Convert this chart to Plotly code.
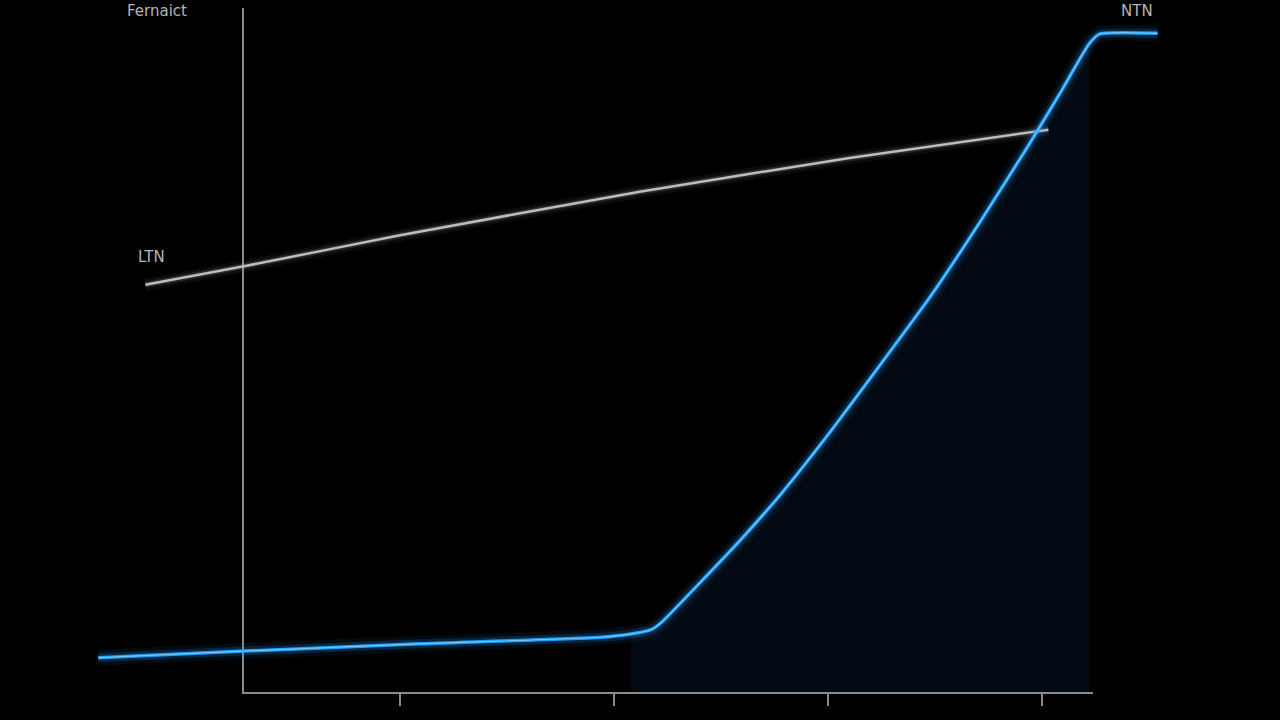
import plotly.graph_objects as go

# blue forecast curve (flat, then steep rise, then plateau)
blue_x = [-0.41, 0.27, 1.09, 1.94, 2.08, 2.17, 2.22, 2.40, 2.59, 2.78, 3.01, 3.24, 3.48, 3.71, 3.94, 4.08, 4.22, 4.27, 4.54]
blue_y = [5.2, 6.2, 7.3, 8.3, 8.8, 9.4, 10.5, 16.5, 23.0, 30.0, 39.4, 49.4, 60.0, 71.2, 83.0, 90.5, 98.2, 99.7, 99.8]

# gray LTN line
gray_x = [-0.19, 0.27, 1.00, 2.12, 3.10, 4.03]
gray_y = [61.7, 64.5, 69.2, 75.8, 80.9, 85.2]

tick_vals = [1, 2, 3, 4]

label_top_left = "Fernaict"
label_top_right = "NTN"
label_gray = "LTN"

fig = go.Figure()

# empty trace so the visible axes get drawn
fig.add_trace(go.Scatter(x=[], y=[], xaxis="x", yaxis="y", showlegend=False))

# dark fill under the rising part
fig.add_trace(go.Scatter(x=blue_x[4:17], y=blue_y[4:17], xaxis="x2", yaxis="y2",
                         mode="lines", line=dict(width=0, shape="spline", smoothing=0.5),
                         fill="tozeroy", fillcolor="rgba(14,32,62,0.3)",
                         hoverinfo="skip", showlegend=False))

# gray line with soft glow
for w, c in [(12, "rgba(200,200,200,0.06)"), (6, "rgba(200,200,200,0.15)"), (2.5, "#bdbdbd")]:
    fig.add_trace(go.Scatter(x=gray_x, y=gray_y, xaxis="x2", yaxis="y2", mode="lines",
                             line=dict(color=c, width=w, shape="spline", smoothing=0.4),
                             hoverinfo="skip", showlegend=False))

# blue line with glow
for w, c in [(16, "rgba(30,150,255,0.07)"), (9, "rgba(30,150,255,0.18)"),
             (3.5, "#1e9cf5"), (1.2, "rgba(150,215,255,0.7)")]:
    fig.add_trace(go.Scatter(x=blue_x, y=blue_y, xaxis="x2", yaxis="y2", mode="lines",
                             line=dict(color=c, width=w, shape="spline", smoothing=0.5),
                             hoverinfo="skip", showlegend=False))

axis_gray = "#8a8a8a"
hidden = dict(visible=False, showgrid=False, zeroline=False, fixedrange=True)

fig.update_layout(
    paper_bgcolor="black",
    plot_bgcolor="rgba(0,0,0,0)",
    margin=dict(l=0, r=0, t=0, b=0),
    showlegend=False,
    xaxis=dict(domain=[244 / 1280, 1093 / 1280], range=[0.271, 4.238],
               showline=True, linecolor=axis_gray, linewidth=2,
               ticks="outside", tickvals=tick_vals, ticklen=12, tickwidth=1.5,
               tickcolor=axis_gray, showticklabels=False, showgrid=False, zeroline=False,
               anchor="y"),
    yaxis=dict(domain=[1 - 692 / 720, 1 - 8 / 720], range=[0, 103.6],
               showline=True, linecolor=axis_gray, linewidth=2,
               showticklabels=False, ticks="", showgrid=False, zeroline=False,
               anchor="x"),
    xaxis2=dict(domain=[90 / 1280, 1170 / 1280], range=[-0.4486, 4.598], anchor="y2", **hidden),
    yaxis2=dict(domain=[0, 1], range=[-4.24, 104.85], anchor="x2", **hidden),
)

txt_font = dict(family="DejaVu Sans", size=15, color="#b5b5b5")
for t, px, py in [(label_top_left, 157, 11), (label_top_right, 1137, 11), (label_gray, 151, 257)]:
    fig.add_annotation(text=t, xref="paper", yref="paper", x=px / 1280, y=1 - py / 720,
                       xanchor="center", yanchor="middle", showarrow=False, font=txt_font)

# get rid of the white page margin around the plot
fix_page = ("document.body.style.margin='0';document.body.style.background='black';"
            "window.dispatchEvent(new Event('resize'));")

fig.write_html("out.html", post_script=fix_page, config={"displayModeBar": False})
